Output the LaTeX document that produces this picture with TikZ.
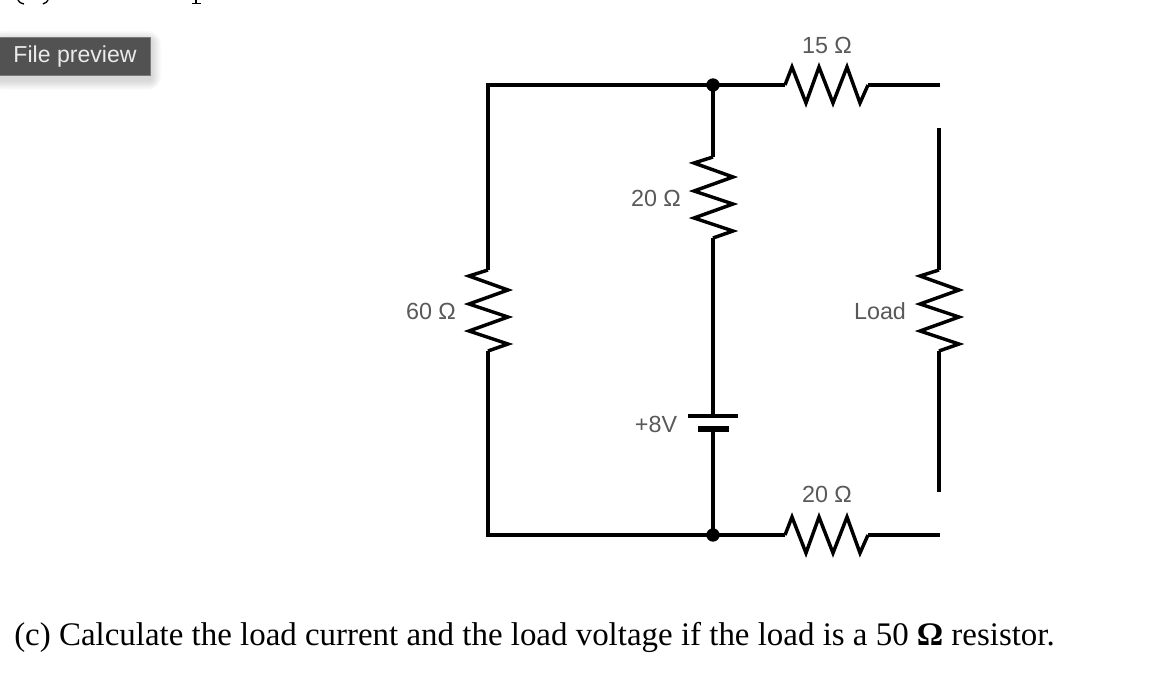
\documentclass[tikz,border=0pt]{standalone}
\usepackage{fontspec}
\setmainfont{Liberation Serif}
\newfontfamily\labelfont{Liberation Sans}
\newcommand{\zigh}{-- ++(7,-18) -- ++(14,36) -- ++(13,-36) -- ++(14,36) -- ++(14,-36) -- ++(13,36) -- ++(8,-18)}
\newcommand{\zigv}{-- ++(-19,6) -- ++(39,14) -- ++(-39,14) -- ++(39,13) -- ++(-39,14) -- ++(39,13) -- ++(-20,7)}
\begin{document}
\begin{tikzpicture}[
        x=0.75pt,y=-0.75pt,
        wire/.style={line width=3pt,black,line join=miter},
        zig/.style={line width=2.6pt,black,line join=miter},
        junction/.style={circle,fill=black,inner sep=0pt,minimum size=10pt},
        valuenode/.style={font=\labelfont\fontsize{17.5}{20}\selectfont,text=black!65,inner sep=0pt},
        previewnode/.style={rectangle,fill=black!68,draw=black!52,line width=0.8pt,text=white!92!black,font=\labelfont\fontsize{17.3}{20}\selectfont,inner sep=0pt,minimum width=113pt,minimum height=29pt},
    ]
    \useasboundingbox (0,0) rectangle (1174,674);
    % top scraps of the line above
    \draw[line width=1pt] (18,0) .. controls (18.5,1.5) and (20,3) .. (24,4);
    \draw[line width=1pt] (48,0) .. controls (47.5,1.5) and (46,3) .. (43,4);
    \draw[line width=1.4pt] (196,0) -- (196,3);
    \draw[line width=1pt] (192,3.5) -- (201,3.5);
    % soft shadow under the tag
    \foreach \g in {1,...,10}
        \fill[black,opacity=0.016,rounded corners=\g] (-\g,41-\g) rectangle (151+\g,80+\g);
    % preview tag
    \node[previewnode] (tag) at (75,56.5) {File preview};
    % junctions and corners
    \node[junction] (top) at (713,85) {};
    \node[junction] (bot) at (713,535) {};
    \coordinate (tl) at (488,85);
    \coordinate (bl) at (488,535);
    \coordinate (tr) at (940,85);
    \coordinate (br) at (940,535);
    \coordinate (lt) at (939,128);
    \coordinate (lb) at (939,492);
    % battery plates
    \coordinate (cellp) at (713,416);
    \coordinate (celln) at (713,429);
    \coordinate (cellpl) at (688,416);
    \coordinate (cellpr) at (738,416);
    \coordinate (cellnl) at (698,429);
    \coordinate (cellnr) at (729,429);
    % resistors, start points
    \coordinate (rtop) at (785,85);
    \coordinate (rtope) at (868,85);
    \coordinate (rbot) at (785,535);
    \coordinate (rbote) at (868,535);
    \coordinate (rmid) at (713,157);
    \coordinate (rmide) at (713,238);
    \coordinate (rleft) at (488,270);
    \coordinate (rlefte) at (488,351);
    \coordinate (rload) at (939,270);
    \coordinate (rloade) at (939,351);
    % wires
    \draw[wire] (rleft) -- (tl) -- (top.center) -- (rtop);
    \draw[zig] (rtop) \zigh;
    \draw[wire] (rtope) -- (tr);
    \draw[wire] (rlefte) -- (bl) -- (bot.center) -- (rbot);
    \draw[zig] (rbot) \zigh;
    \draw[wire] (rbote) -- (br);
    \draw[zig] (rleft) \zigv;
    \draw[wire] (top.center) -- (rmid);
    \draw[zig] (rmid) \zigv;
    \draw[wire] (rmide) -- (cellp);
    \draw[line width=3.2pt] (cellpl) -- (cellpr);
    \draw[line width=5pt] (cellnl) -- (cellnr);
    \draw[wire] (celln) -- (bot.center);
    \draw[wire] (lt) -- (rload);
    \draw[zig] (rload) \zigv;
    \draw[wire] (rloade) -- (lb);
    % labels
    \node[valuenode] (l15) at (827,45) {15 Ω};
    \node[valuenode] (l20a) at (656,198) {20 Ω};
    \node[valuenode] (l60) at (431,311) {60 Ω};
    \node[valuenode] (lload) at (880,311) {Load};
    \node[valuenode] (lbat) at (656,424) {+8V};
    \node[valuenode] (l20b) at (827,494) {20 Ω};
    \node[anchor=base west,inner sep=0pt,font=\fontsize{24.7}{28}\selectfont] (question) at (14,645) {(c) Calculate the load current and the load voltage if the load is a 50 \textbf{Ω} resistor.};
\end{tikzpicture}
\end{document}
